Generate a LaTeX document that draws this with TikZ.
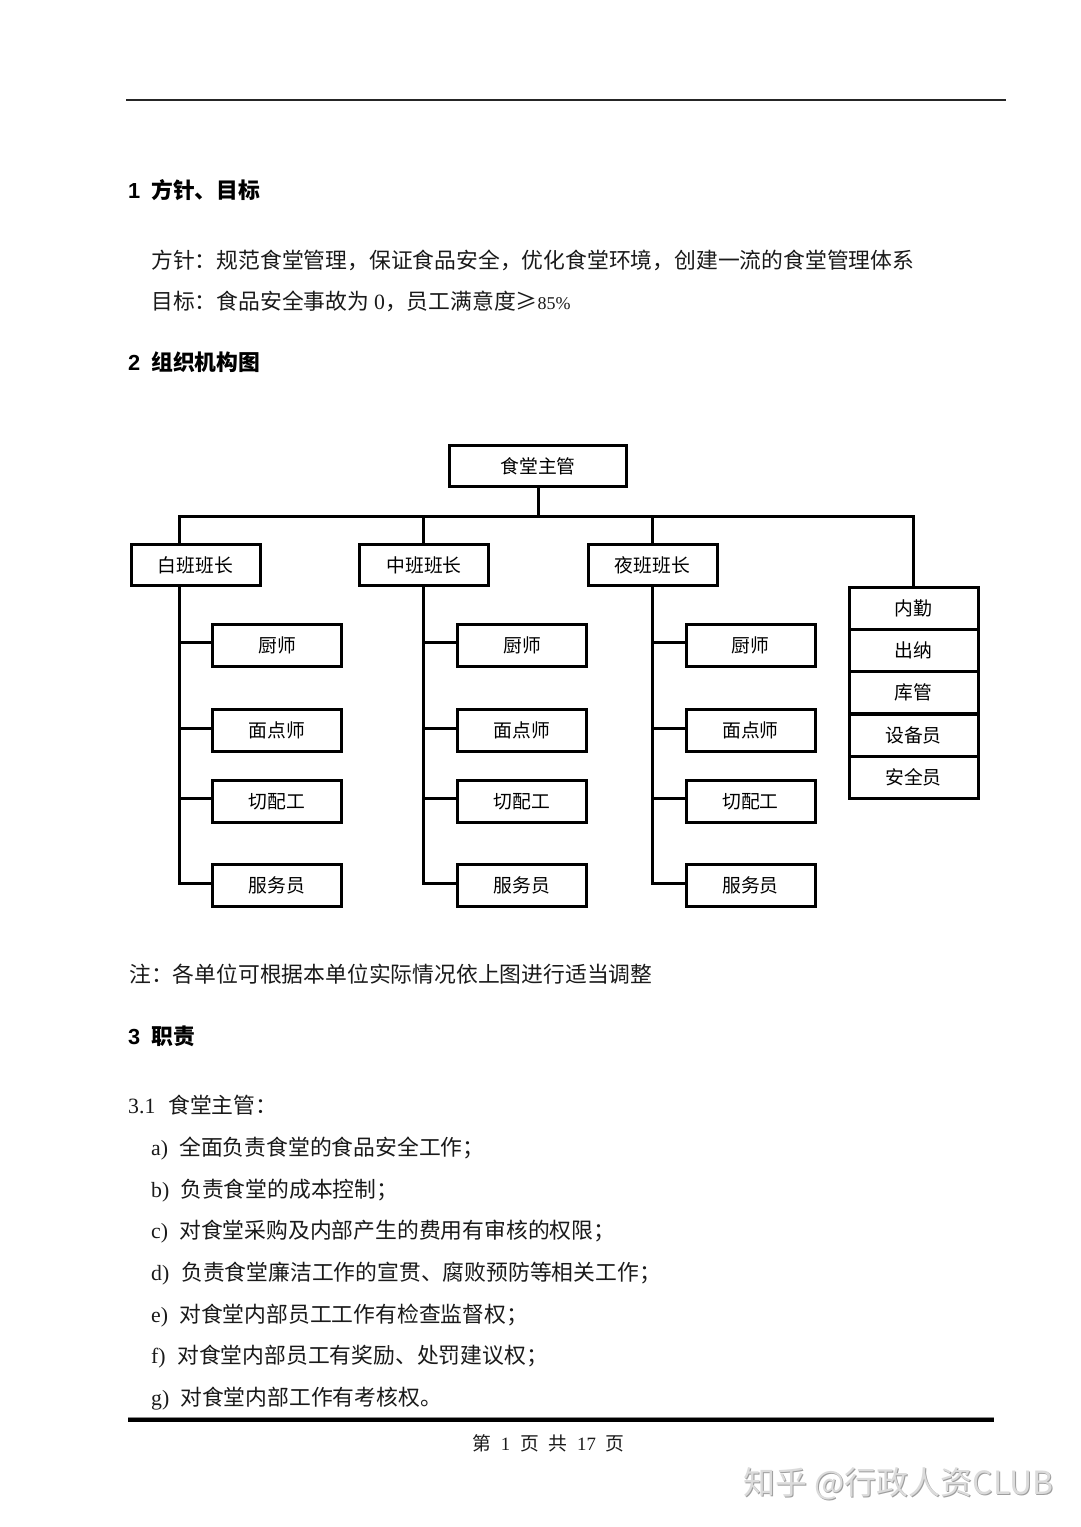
\documentclass[tikz,border=0pt]{standalone}
\usepackage{fontspec}
\setmainfont{Liberation Serif}
\setsansfont{Liberation Sans}
\newfontfamily\cjk{Noto Sans CJK SC}
\newcommand\hz[1]{{\cjk #1}}
\newcommand\zc{\char"FF0C\relax}
\newcommand\zn{\char"FF1A\relax}
\newcommand\zs{\char"FF1B\relax}
\definecolor{ink}{HTML}{1A1A1A}
\tikzset{
  txt/.style={anchor=base west,inner sep=0pt,text=ink,font=\fontsize{21.8}{26}\selectfont},
  head/.style={anchor=base west,inner sep=0pt,text=black,font=\sffamily\bfseries\fontsize{21.8}{26}\selectfont},
  boxn/.style={draw=black,line width=3pt,fill=white,inner sep=0pt,minimum width=129pt,minimum height=42pt,text=black,font=\cjk\fontsize{18.8}{22}\selectfont},
  link/.style={draw=black,line width=3pt,line cap=rect},
  mark1/.style={anchor=base west,inner sep=0pt,font=\cjk\fontsize{32}{36}\selectfont},
}
\begin{document}
\begin{tikzpicture}[x=1pt,y=-1pt]
\useasboundingbox[fill=white] (0,0) rectangle (1080,1527);
% rules
\coordinate (rtl) at (126,100); \coordinate (rtr) at (1006,100);
\draw[line width=1.4pt,black!85] (rtl) -- (rtr);
\coordinate (rbl) at (128,1420.2); \coordinate (rbr) at (994,1420.2);
\draw[line width=4.4pt,black] (rbl) -- (rbr);
\coordinate (rgl) at (128,1417.2); \coordinate (rgr) at (994,1417.2);
\draw[line width=1pt,black!45] (rgl) -- (rgr);
% headings
\node[head] (h1n) at (128,198.5) {1};
\node[head] (h1) at (151,198.5) {\hz{\bfseries 方针、目标}};
\node[txt] (p1) at (151,268) {\hz{方针\zn 规范食堂管理\zc 保证食品安全\zc 优化食堂环境\zc 创建一流的食堂管理体系}};
\node[txt] (p2) at (151,309.5) {\hz{目标\zn 食品安全事故为}\hspace{5pt}0\hz{\zc 员工满意度≥}{\fontsize{18}{22}\selectfont 85\%}};
\node[head] (h2n) at (128,370.5) {2};
\node[head] (h2) at (151,370.5) {\hz{\bfseries 组织机构图}};
% org chart
\node[boxn,minimum width=177pt,minimum height=41pt] (top) at (538,466) {食堂主管};
\coordinate (bus) at (538.5,516.5);
\coordinate (busL) at (179.5,516.5);
\coordinate (busM) at (423.5,516.5);
\coordinate (busN) at (652.5,516.5);
\coordinate (busR) at (913.5,516.5);
\draw[link] (top.south -| bus) -- (bus);
\draw[link] (busL) -- (busR);
\foreach \k/\lx/\cx/\tx/\lab in {L/195.5/277/179.5/白班班长,M/424/522/423.5/中班班长,N/652.5/750.5/652.5/夜班班长}{
  \node[boxn,minimum height=41pt] (lead\k) at (\lx,565) {\lab};
  \draw[link] (bus\k) -- (bus\k |- lead\k.north);
  \coordinate (end\k) at (\tx,883.5);
  \draw[link] (bus\k |- lead\k.south) -- (end\k);
  \foreach \i/\cy/\jy/\name in {1/645.5/642.5/厨师,2/730.5/728.5/面点师,3/801.5/798.5/切配工,4/885.5/883.5/服务员}{
    \node[boxn] (c\k\i) at (\cx,\cy) {\name};
    \coordinate (j\k\i) at (\tx,\jy);
    \draw[link] (j\k\i) -- (c\k\i.west |- j\k\i);
  }
}
\node[boxn] (s1) at (913.5,608) {内勤};
\node[boxn] (s2) at (913.5,650) {出纳};
\node[boxn] (s3) at (913.5,692.5) {库管};
\node[boxn] (s4) at (913.5,735) {设备员};
\node[boxn] (s5) at (913.5,777) {安全员};
\draw[link] (busR) -- (s1.north -| busR);
% note
\node[txt] (note) at (129,982.5) {\hz{注\zn 各单位可根据本单位实际情况依上图进行适当调整}};
\node[head] (h3n) at (128,1044.5) {3};
\node[head] (h3) at (151,1044.5) {\hz{\bfseries 职责}};
\node[txt] (s31n) at (128,1113.5) {3.1};
\node[txt] (s31) at (168,1113.5) {\hz{食堂主管\zn}};
\foreach \n/\y/\lab/\x/\t in {
  a/1155.5/a)/179/全面负责食堂的食品安全工作\zs,
  b/1197/b)/180/负责食堂的成本控制\zs,
  c/1238.5/c)/179/对食堂采购及内部产生的费用有审核的权限\zs,
  d/1280.5/d)/181/负责食堂廉洁工作的宣贯、腐败预防等相关工作\zs,
  e/1322/e)/179/对食堂内部员工工作有检查监督权\zs,
  f/1363.5/f)/177/对食堂内部员工有奖励、处罚建议权\zs,
  g/1405.5/g)/180/对食堂内部工作有考核权。}{
  \node[txt] (li\n) at (151,\y) {\lab};
  \node[txt] (lt\n) at (\x,\y) {\hz{\t}};
}
% footer
\node[txt,font=\fontsize{18.8}{22}\selectfont] (foot) at (472,1450) {\hz{第}\hspace{9.8pt}1\hspace{9.8pt}\hz{页}\hspace{9.8pt}\hz{共}\hspace{9.8pt}17\hspace{9.8pt}\hz{页}};
% watermark
\node[mark1,text=black!38] (wm2) at (744.2,1495.2) {知乎 @行政人资CLUB};
\node[mark1,text=black!14] (wm) at (743,1494) {知乎 @行政人资CLUB};
\end{tikzpicture}
\end{document}
